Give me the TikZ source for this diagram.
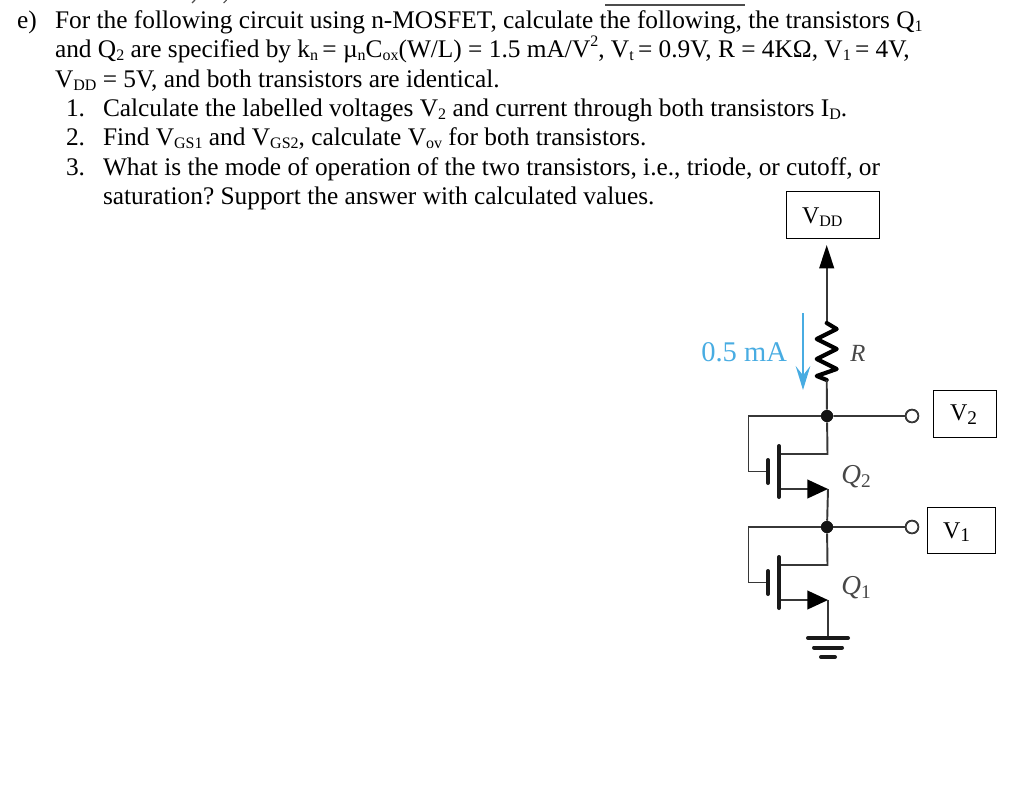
\documentclass[tikz,border=0pt]{standalone}
\usepackage{fontspec}
\usetikzlibrary{arrows.meta}
\setmainfont{Liberation Serif}
\definecolor{wire}{RGB}{55,55,55}
\definecolor{cur}{RGB}{72,172,226}
\newcommand{\lowsub}[1]{\raisebox{-0.13em}{\fontsize{12pt}{12pt}\selectfont #1}}
\newcommand{\highsup}[1]{\raisebox{0.42em}{\fontsize{12pt}{12pt}\selectfont #1}}
\newcommand{\bigsub}[1]{\raisebox{-0.15em}{\fontsize{14.5pt}{15pt}\selectfont\upshape #1}}
\tikzset{
  x=0.75pt,y=-0.75pt,
  txt/.style={anchor=base west,inner sep=0pt,outer sep=0pt,font=\fontsize{19.02pt}{20pt}\selectfont\frenchspacing},
  lbl/.style={anchor=base west,inner sep=0pt,outer sep=0pt,font=\fontsize{18pt}{20pt}\selectfont},
  box/.style={draw=black,line width=0.75pt,inner sep=0pt,outer sep=0pt},
  wr/.style={draw=wire,line width=1.45pt},
  heavy/.style={draw=black!90,line width=3pt,line cap=round},
  dot/.style={circle,fill=black!92,inner sep=0pt,minimum size=9pt},
  term/.style={circle,draw=wire,fill=white,line width=1.3pt,inner sep=0pt,minimum size=9.5pt},
  ital/.style={anchor=base west,inner sep=0pt,text=black!72,font=\fontsize{20.5pt}{22pt}\selectfont\itshape},
  bigtip/.style={-{Triangle[length=17.5pt,width=11pt,color=black]}},
  srctip/.style={-{Triangle[length=15.5pt,width=14pt,color=black]}}
}
\begin{document}
\begin{tikzpicture}
\useasboundingbox (0,0) rectangle (1024,807);
% scanned fragments at the top edge
\draw[line width=1.1pt,black!70] (605,4.8) -- (745,4.8);
\draw[line width=0.8pt,black!70] (192,3) -- (195,0);
\draw[line width=0.8pt,black!70] (223.5,3) -- (226.5,0);
% text
\node[txt] (l0) at (17,28) {e)};
\node[txt] (l1) at (55,28) {For the following circuit using n-MOSFET, calculate the following, the transistors Q\lowsub{1}};
\node[txt] (l2) at (55,57.5) {and Q\lowsub{2} are specified by k\lowsub{n}\,= µ\lowsub{n}C\lowsub{ox}(W/L) = 1.5 mA/V\highsup{2}, V\lowsub{t}\,= 0.9V, R = 4KΩ, V\lowsub{1}\,= 4V,};
\node[txt] (l3) at (55,87) {V\lowsub{DD} = 5V, and both transistors are identical.};
\node[txt] (n1) at (66,116.5) {1.};
\node[txt] (l4) at (103,116.5) {Calculate the labelled voltages V\lowsub{2} and current through both transistors I\lowsub{D}.};
\node[txt] (n2) at (66,145.5) {2.};
\node[txt] (l5) at (103,145.5) {Find V\lowsub{GS1} and V\lowsub{GS2}, calculate V\lowsub{ov} for both transistors.};
\node[txt] (n3) at (66,175) {3.};
\node[txt] (l6) at (103,175) {What is the mode of operation of the two transistors, i.e., triode, or cutoff, or};
\node[txt] (l7) at (103,204) {saturation? Support the answer with calculated values.};
% boxes
\node[box,minimum width=93*0.75pt,minimum height=47*0.75pt] (vddbox) at (832.5,214.5) {};
\node[lbl] (vddt) at (802,223.5) {V\lowsub{DD}};
\node[box,minimum width=63*0.75pt,minimum height=47*0.75pt] (v2box) at (964.5,413.5) {};
\node[lbl] (v2t) at (950,420.5) {V\bigsub{2}};
\node[box,minimum width=68*0.75pt,minimum height=46*0.75pt] (v1box) at (961,530) {};
\node[lbl] (v1t) at (943,538) {V\bigsub{1}};
% coordinates
\coordinate (tip) at (826.7,245);
\coordinate (rt) at (826.7,323);
\coordinate (rb) at (826.7,380);
\node[dot] (j2) at (827,416) {};
\node[dot] (j1) at (827,527) {};
\node[term] (t2) at (912,416) {};
\node[term] (t1) at (912,527) {};
\coordinate (g2l) at (748.5,416);
\coordinate (g2m) at (748.5,471.5);
\coordinate (g2p) at (768,471.5);
\coordinate (d2a) at (779,454);
\coordinate (d2b) at (827.5,454);
\coordinate (s2a) at (779,489);
\coordinate (s2b) at (828,489);
\coordinate (g1l) at (748.5,527);
\coordinate (g1m) at (748.5,582.5);
\coordinate (g1p) at (768,582.5);
\coordinate (d1a) at (779,565);
\coordinate (d1b) at (827.5,565);
\coordinate (s1a) at (779,600);
\coordinate (s1b) at (828,600);
\coordinate (gnd) at (828,638);
% wires
\draw[wr,bigtip] (rt) -- (tip);
\draw[draw=black,line width=3.1pt,line join=round,line cap=round] (rt) -- ++(10,6) -- ++(-20,10) -- ++(20,10) -- ++(-20,10) -- ++(20,10) -- ++(-20,7) -- (rb);
\draw[wr] (rb) -- (j2) -- (t2);
\draw[wr] (j2) -- (g2l) -- (g2m) -- (g2p);
\draw[wr] (j2) -- (d2b) -- (d2a);
\draw[wr,srctip] (s2a) -- (s2b);
\draw[wr] (s2b) -- (j1);
\draw[wr] (j1) -- (t1);
\draw[wr] (j1) -- (g1l) -- (g1m) -- (g1p);
\draw[wr] (j1) -- (d1b) -- (d1a);
\draw[wr,srctip] (s1a) -- (s1b);
\draw[wr] (s1b) -- (gnd);
% redraw nodes over the wires
\node[dot] at (j2) {};
\node[dot] at (j1) {};
\node[term] at (t2) {};
\node[term] at (t1) {};
% MOSFET plates
\draw[heavy] (768,460) -- (768,483);
\draw[heavy] (779,446) -- (779,497);
\draw[heavy] (768,571) -- (768,594);
\draw[heavy] (779,557) -- (779,608);
% ground
\coordinate (g1a) at (808,638); \coordinate (g1b) at (848,638);
\coordinate (g2a) at (814,647.5); \coordinate (g2b) at (842,647.5);
\coordinate (g3a) at (821,657); \coordinate (g3b) at (835,657);
\draw[heavy] (g1a) -- (g1b);
\draw[heavy] (g2a) -- (g2b);
\draw[heavy] (g3a) -- (g3b);
% current
\coordinate (ca) at (803,313);
\coordinate (cb) at (803,390);
\draw[draw=cur,line width=1.3pt,-{Stealth[length=18pt,width=11pt,inset=7pt]}] (ca) -- (cb);
\node[anchor=base west,inner sep=0pt,text=cur,font=\fontsize{21.4pt}{22pt}\selectfont] (ilab) at (701,361) {0.5 mA};
\node[anchor=base west,inner sep=0pt,text=black!72,font=\fontsize{18.5pt}{20pt}\selectfont\itshape] (rl) at (850,361) {R};
\node[ital] (q2) at (841,483) {Q\bigsub{2}};
\node[ital] (q1) at (841,594) {Q\bigsub{1}};
\end{tikzpicture}
\end{document}
